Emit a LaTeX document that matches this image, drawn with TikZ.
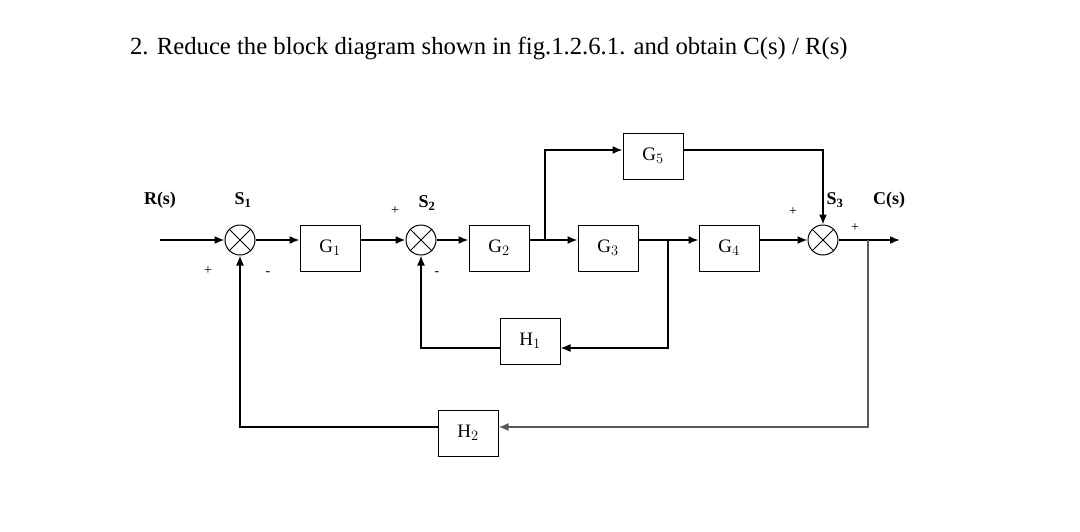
\documentclass[tikz,border=0pt]{standalone}
\usepackage{fontspec}
\setmainfont{Liberation Serif}
\usetikzlibrary{arrows.meta}
\tikzset{
  blk/.style={draw,line width=1pt,minimum width=60pt,minimum height=46pt,font=\fontsize{19}{19}\selectfont},
  sumc/.style={draw,line width=1pt,circle,minimum size=30pt,inner sep=0pt},
  lbl/.style={font=\fontsize{18}{18}\selectfont\bfseries},
  sgn/.style={font=\fontsize{14}{14}\selectfont},
}
\begin{document}
\begin{tikzpicture}[x=1pt,y=-1pt,>={Latex[length=10pt,width=8pt]},line width=1.6pt]
  \useasboundingbox (0,0) rectangle (1080,531);
  \node[anchor=west,font=\fontsize{24.7}{24.7}\selectfont] (title) at (126,48)
    {2. Reduce the block diagram shown in fig.1.2.6.1. and obtain C(s) / R(s)};
  % summing points
  \node[sumc] (s1) at (240,240) {};
  \node[sumc] (s2) at (421,240) {};
  \node[sumc] (s3) at (823,240) {};
  \foreach \s in {s1,s2,s3}{
    \draw[line width=1pt] (\s.north west)--(\s.south east) (\s.north east)--(\s.south west);}
  % blocks
  \node[blk] (g1) at (330,248) {G$_1$};
  \node[blk] (g2) at (499,248) {G$_2$};
  \node[blk] (g3) at (608,248) {G$_3$};
  \node[blk] (g4) at (729,248) {G$_4$};
  \node[blk] (g5) at (653,156) {G$_5$};
  \node[blk] (h1) at (530,341) {H$_1$};
  \node[blk] (h2) at (468,433) {H$_2$};
  \coordinate (in) at (160,240);
  \coordinate (out) at (900,240);
  \coordinate (b1) at (545,240);
  \coordinate (b2) at (668,240);
  \coordinate (b3) at (868,240);
  % forward path
  \draw[->] (in)--(s1);
  \draw[->] (s1)--(g1.west|-s1);
  \draw[->] (g1.east|-s1)--(s2);
  \draw[->] (s2)--(g2.west|-s2);
  \draw[->] (g2.east|-s2)--(g3.west|-s2);
  \draw[->] (g3.east|-s2)--(g4.west|-s2);
  \draw[->] (g4.east|-s2)--(s3);
  \draw[->] (s3)--(out);
  % feedforward and feedback loops
  \draw[->] (b1)|-(g5.west|-0,150);
  \draw[->] (g5.east|-0,150)-|(s3.north);
  \draw[->] (b2)|-(h1.east|-0,348);
  \draw[->] (h1.west|-0,348)-|(s2.south);
  \draw[->,gray!70!black] (b3)|-(h2.east|-0,427);
  \draw[->] (h2.west|-0,427)-|(s1.south);
  % labels
  \node[lbl] (rs) at (160,200) {R(s)};
  \node[lbl] (n1) at (243,200) {S$_\mathbf{1}$};
  \node[lbl] (n2) at (427,203) {S$_\mathbf{2}$};
  \node[lbl] (n3) at (835,200) {S$_\mathbf{3}$};
  \node[lbl] (cs) at (889,200) {C(s)};
  \node[sgn] (p1) at (208,271) {+};
  \node[sgn] (m1) at (268,274) {-};
  \node[sgn] (p2) at (395,211) {+};
  \node[sgn] (m2) at (437,274) {-};
  \node[sgn] (p3) at (793,212) {+};
  \node[sgn] (p4) at (855,228) {+};
\end{tikzpicture}
\end{document}
